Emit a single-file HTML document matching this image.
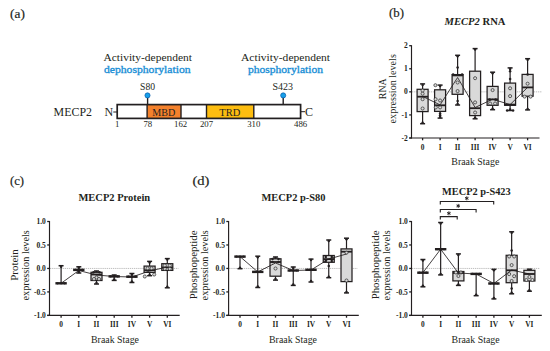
<!DOCTYPE html>
<html><head><meta charset="utf-8"><style>
html,body{margin:0;padding:0;background:#fff;width:550px;height:351px;overflow:hidden;}
svg{display:block;font-family:"Liberation Serif", serif;}
</style></head><body>
<svg width="550" height="351" viewBox="0 0 550 351">
<rect width="550" height="351" fill="#fff"/>
<text x="10.1" y="17.7" font-size="13.5" text-anchor="start" font-weight="normal" font-style="normal" fill="#231f20" textLength="14.8" lengthAdjust="spacingAndGlyphs" stroke="#231f20" stroke-width="0.2">(a)</text>
<rect x="147.1" y="104.6" width="33.900000000000006" height="13.800000000000011" fill="#f4812c" stroke="none" stroke-width="1"/>
<rect x="206.5" y="104.6" width="47.30000000000001" height="13.800000000000011" fill="#fdbd10" stroke="none" stroke-width="1"/>
<rect x="117.2" y="104.6" width="183.40000000000003" height="13.800000000000011" fill="none" stroke="#231f20" stroke-width="1.7"/>
<line x1="147.1" y1="104.6" x2="147.1" y2="118.4" stroke="#231f20" stroke-width="1.4"/>
<line x1="181" y1="104.6" x2="181" y2="118.4" stroke="#231f20" stroke-width="1.4"/>
<line x1="206.5" y1="104.6" x2="206.5" y2="118.4" stroke="#231f20" stroke-width="1.4"/>
<line x1="253.8" y1="104.6" x2="253.8" y2="118.4" stroke="#231f20" stroke-width="1.4"/>
<text x="163.8" y="115.6" font-size="11.2" text-anchor="middle" font-weight="normal" font-style="normal" fill="#231f20" textLength="23" lengthAdjust="spacingAndGlyphs">MBD</text>
<text x="229.8" y="115.6" font-size="11.2" text-anchor="middle" font-weight="normal" font-style="normal" fill="#231f20" textLength="21" lengthAdjust="spacingAndGlyphs">TRD</text>
<text x="53.6" y="115.5" font-size="12" text-anchor="start" font-weight="normal" font-style="normal" fill="#231f20" textLength="38.4" lengthAdjust="spacingAndGlyphs">MECP2</text>
<text x="108.75" y="115.5" font-size="12" text-anchor="middle" font-weight="normal" font-style="normal" fill="#231f20">N</text>
<line x1="113.3" y1="112" x2="117.2" y2="112" stroke="#231f20" stroke-width="1"/>
<line x1="300.6" y1="111.7" x2="305" y2="111.7" stroke="#231f20" stroke-width="1"/>
<text x="309" y="115.6" font-size="12" text-anchor="middle" font-weight="normal" font-style="normal" fill="#231f20">C</text>
<text x="117.2" y="127.3" font-size="8.8" text-anchor="middle" font-weight="normal" font-style="normal" fill="#231f20">1</text>
<text x="147.8" y="127.3" font-size="8.8" text-anchor="middle" font-weight="normal" font-style="normal" fill="#231f20">78</text>
<text x="180.6" y="127.3" font-size="8.8" text-anchor="middle" font-weight="normal" font-style="normal" fill="#231f20">162</text>
<text x="206.5" y="127.3" font-size="8.8" text-anchor="middle" font-weight="normal" font-style="normal" fill="#231f20">207</text>
<text x="253.8" y="127.3" font-size="8.8" text-anchor="middle" font-weight="normal" font-style="normal" fill="#231f20">310</text>
<text x="300.6" y="127.3" font-size="8.8" text-anchor="middle" font-weight="normal" font-style="normal" fill="#231f20">486</text>
<line x1="147.6" y1="97" x2="147.6" y2="104.6" stroke="#231f20" stroke-width="1.4"/>
<circle cx="147.5" cy="95.4" r="2.55" fill="#17a0ea" stroke="#0d5aa8" stroke-width="0.7"/>
<line x1="283.2" y1="97" x2="283.2" y2="104.6" stroke="#231f20" stroke-width="1.4"/>
<circle cx="283.2" cy="95.4" r="2.55" fill="#17a0ea" stroke="#0d5aa8" stroke-width="0.7"/>
<text x="147.6" y="90" font-size="10" text-anchor="middle" font-weight="normal" font-style="normal" fill="#231f20" textLength="15" lengthAdjust="spacingAndGlyphs">S80</text>
<text x="282.8" y="89.8" font-size="10" text-anchor="middle" font-weight="normal" font-style="normal" fill="#231f20" textLength="20.5" lengthAdjust="spacingAndGlyphs">S423</text>
<text x="147.7" y="61" font-size="11" text-anchor="middle" font-weight="normal" font-style="normal" fill="#231f20" textLength="88.6" lengthAdjust="spacingAndGlyphs">Activity-dependent</text>
<text x="147.3" y="73" font-size="11.2" text-anchor="middle" font-weight="normal" font-style="normal" fill="#1a8fd6" textLength="86.6" lengthAdjust="spacingAndGlyphs" stroke="#1a8fd6" stroke-width="0.35">dephosphorylation</text>
<text x="285.5" y="61" font-size="11" text-anchor="middle" font-weight="normal" font-style="normal" fill="#231f20" textLength="89" lengthAdjust="spacingAndGlyphs">Activity-dependent</text>
<text x="285.5" y="73" font-size="11.2" text-anchor="middle" font-weight="normal" font-style="normal" fill="#1a8fd6" textLength="75" lengthAdjust="spacingAndGlyphs" stroke="#1a8fd6" stroke-width="0.35">phosphorylation</text>
<text x="389" y="17.3" font-size="13.5" text-anchor="start" font-weight="normal" font-style="normal" fill="#231f20" textLength="15" lengthAdjust="spacingAndGlyphs" stroke="#231f20" stroke-width="0.2">(b)</text>
<text x="475" y="24.5" font-size="11" text-anchor="middle" font-weight="bold" fill="#231f20" textLength="61" lengthAdjust="spacingAndGlyphs"><tspan font-style="italic">MECP2</tspan> RNA</text>
<line x1="412" y1="91.85" x2="541.5" y2="91.85" stroke="#a8a8a8" stroke-width="0.75" stroke-dasharray="1.3,0.8"/>
<line x1="422.6" y1="83.9" x2="422.6" y2="89.3" stroke="#231f20" stroke-width="1.2"/>
<line x1="420.1" y1="83.9" x2="425.1" y2="83.9" stroke="#231f20" stroke-width="1.5"/>
<circle cx="422.6" cy="84.9" r="1.25" fill="#231f20" stroke="none" stroke-width="0"/>
<line x1="422.6" y1="111.6" x2="422.6" y2="123.7" stroke="#231f20" stroke-width="1.2"/>
<line x1="420.1" y1="123.7" x2="425.1" y2="123.7" stroke="#231f20" stroke-width="1.5"/>
<circle cx="422.6" cy="122.7" r="1.25" fill="#231f20" stroke="none" stroke-width="0"/>
<rect x="417.1" y="89.3" width="11.0" height="22.299999999999997" fill="#d9d9d9" stroke="#231f20" stroke-width="1.25"/>
<line x1="417.1" y1="96.7" x2="428.1" y2="96.7" stroke="#231f20" stroke-width="1.8"/>
<circle cx="422.6" cy="90.6" r="1.55" fill="#d9d9d9" stroke="#333" stroke-width="0.75"/>
<circle cx="422.6" cy="93.7" r="1.55" fill="#d9d9d9" stroke="#333" stroke-width="0.75"/>
<circle cx="422.6" cy="99.2" r="1.55" fill="#d9d9d9" stroke="#333" stroke-width="0.75"/>
<circle cx="422.6" cy="108.5" r="1.55" fill="#d9d9d9" stroke="#333" stroke-width="0.75"/>
<line x1="440.1" y1="85.1" x2="440.1" y2="89.8" stroke="#231f20" stroke-width="1.2"/>
<line x1="437.6" y1="85.1" x2="442.6" y2="85.1" stroke="#231f20" stroke-width="1.5"/>
<circle cx="440.1" cy="86.1" r="1.25" fill="#231f20" stroke="none" stroke-width="0"/>
<line x1="440.1" y1="111.4" x2="440.1" y2="118.1" stroke="#231f20" stroke-width="1.2"/>
<line x1="437.6" y1="118.1" x2="442.6" y2="118.1" stroke="#231f20" stroke-width="1.5"/>
<circle cx="440.1" cy="117.1" r="1.25" fill="#231f20" stroke="none" stroke-width="0"/>
<rect x="434.6" y="89.8" width="11.0" height="21.60000000000001" fill="#d9d9d9" stroke="#231f20" stroke-width="1.25"/>
<line x1="434.6" y1="105.3" x2="445.6" y2="105.3" stroke="#231f20" stroke-width="1.8"/>
<circle cx="435.40000000000003" cy="85.2" r="1.55" fill="#d9d9d9" stroke="#333" stroke-width="0.75"/>
<circle cx="440.1" cy="100.5" r="1.55" fill="#d9d9d9" stroke="#333" stroke-width="0.75"/>
<circle cx="435.6" cy="99.2" r="1.55" fill="#d9d9d9" stroke="#333" stroke-width="0.75"/>
<circle cx="440.1" cy="107.4" r="1.55" fill="#d9d9d9" stroke="#333" stroke-width="0.75"/>
<circle cx="435.8" cy="107.4" r="1.55" fill="#d9d9d9" stroke="#333" stroke-width="0.75"/>
<circle cx="440.1" cy="113.6" r="1.25" fill="#231f20" stroke="none" stroke-width="0"/>
<circle cx="440.1" cy="115.2" r="1.25" fill="#231f20" stroke="none" stroke-width="0"/>
<line x1="457.6" y1="55.3" x2="457.6" y2="74.6" stroke="#231f20" stroke-width="1.2"/>
<line x1="455.1" y1="55.3" x2="460.1" y2="55.3" stroke="#231f20" stroke-width="1.5"/>
<circle cx="457.6" cy="56.3" r="1.25" fill="#231f20" stroke="none" stroke-width="0"/>
<line x1="457.6" y1="94.3" x2="457.6" y2="105" stroke="#231f20" stroke-width="1.2"/>
<line x1="455.1" y1="105" x2="460.1" y2="105" stroke="#231f20" stroke-width="1.5"/>
<circle cx="457.6" cy="104.0" r="1.25" fill="#231f20" stroke="none" stroke-width="0"/>
<rect x="452.1" y="74.6" width="11.0" height="19.700000000000003" fill="#d9d9d9" stroke="#231f20" stroke-width="1.25"/>
<line x1="452.1" y1="75.4" x2="463.1" y2="75.4" stroke="#231f20" stroke-width="1.8"/>
<circle cx="457.6" cy="82.5" r="1.55" fill="#d9d9d9" stroke="#333" stroke-width="0.75"/>
<circle cx="457.6" cy="91.1" r="1.55" fill="#d9d9d9" stroke="#333" stroke-width="0.75"/>
<circle cx="457.6" cy="67.5" r="1.25" fill="#231f20" stroke="none" stroke-width="0"/>
<circle cx="457.6" cy="101.1" r="1.25" fill="#231f20" stroke="none" stroke-width="0"/>
<circle cx="453.1" cy="74.6" r="1.25" fill="#231f20" stroke="none" stroke-width="0"/>
<circle cx="462.1" cy="74.6" r="1.25" fill="#231f20" stroke="none" stroke-width="0"/>
<line x1="475.1" y1="48.6" x2="475.1" y2="71.2" stroke="#231f20" stroke-width="1.2"/>
<line x1="472.6" y1="48.6" x2="477.6" y2="48.6" stroke="#231f20" stroke-width="1.5"/>
<circle cx="475.1" cy="49.6" r="1.25" fill="#231f20" stroke="none" stroke-width="0"/>
<line x1="475.1" y1="115.6" x2="475.1" y2="118.8" stroke="#231f20" stroke-width="1.2"/>
<line x1="472.6" y1="118.8" x2="477.6" y2="118.8" stroke="#231f20" stroke-width="1.5"/>
<circle cx="475.1" cy="117.8" r="1.25" fill="#231f20" stroke="none" stroke-width="0"/>
<rect x="469.6" y="71.2" width="11.0" height="44.39999999999999" fill="#d9d9d9" stroke="#231f20" stroke-width="1.25"/>
<line x1="469.6" y1="108.2" x2="480.6" y2="108.2" stroke="#231f20" stroke-width="1.8"/>
<circle cx="475.1" cy="78.2" r="1.55" fill="#d9d9d9" stroke="#333" stroke-width="0.75"/>
<circle cx="475.1" cy="102.4" r="1.55" fill="#d9d9d9" stroke="#333" stroke-width="0.75"/>
<circle cx="475.1" cy="112.5" r="1.55" fill="#d9d9d9" stroke="#333" stroke-width="0.75"/>
<line x1="492.6" y1="72.2" x2="492.6" y2="86.4" stroke="#231f20" stroke-width="1.2"/>
<line x1="490.1" y1="72.2" x2="495.1" y2="72.2" stroke="#231f20" stroke-width="1.5"/>
<circle cx="492.6" cy="73.2" r="1.25" fill="#231f20" stroke="none" stroke-width="0"/>
<line x1="492.6" y1="105.3" x2="492.6" y2="109.7" stroke="#231f20" stroke-width="1.2"/>
<line x1="490.1" y1="109.7" x2="495.1" y2="109.7" stroke="#231f20" stroke-width="1.5"/>
<circle cx="492.6" cy="108.7" r="1.25" fill="#231f20" stroke="none" stroke-width="0"/>
<rect x="487.1" y="86.4" width="11.0" height="18.89999999999999" fill="#d9d9d9" stroke="#231f20" stroke-width="1.25"/>
<line x1="487.1" y1="99.4" x2="498.1" y2="99.4" stroke="#231f20" stroke-width="1.8"/>
<circle cx="492.6" cy="90.1" r="1.55" fill="#d9d9d9" stroke="#333" stroke-width="0.75"/>
<circle cx="490.1" cy="103.5" r="1.55" fill="#d9d9d9" stroke="#333" stroke-width="0.75"/>
<circle cx="495.1" cy="103.5" r="1.55" fill="#d9d9d9" stroke="#333" stroke-width="0.75"/>
<circle cx="489.6" cy="99.4" r="1.25" fill="#231f20" stroke="none" stroke-width="0"/>
<circle cx="495.6" cy="99.4" r="1.25" fill="#231f20" stroke="none" stroke-width="0"/>
<line x1="510.1" y1="67.9" x2="510.1" y2="83.1" stroke="#231f20" stroke-width="1.2"/>
<line x1="507.6" y1="67.9" x2="512.6" y2="67.9" stroke="#231f20" stroke-width="1.5"/>
<circle cx="510.1" cy="68.9" r="1.25" fill="#231f20" stroke="none" stroke-width="0"/>
<line x1="510.1" y1="105.3" x2="510.1" y2="110.5" stroke="#231f20" stroke-width="1.2"/>
<line x1="507.6" y1="110.5" x2="512.6" y2="110.5" stroke="#231f20" stroke-width="1.5"/>
<circle cx="510.1" cy="109.5" r="1.25" fill="#231f20" stroke="none" stroke-width="0"/>
<rect x="504.6" y="83.1" width="11.0" height="22.200000000000003" fill="#d9d9d9" stroke="#231f20" stroke-width="1.25"/>
<line x1="504.6" y1="104.6" x2="515.6" y2="104.6" stroke="#231f20" stroke-width="1.8"/>
<circle cx="510.1" cy="88.3" r="1.55" fill="#d9d9d9" stroke="#333" stroke-width="0.75"/>
<circle cx="510.1" cy="96.1" r="1.55" fill="#d9d9d9" stroke="#333" stroke-width="0.75"/>
<circle cx="510.1" cy="71.3" r="1.25" fill="#231f20" stroke="none" stroke-width="0"/>
<circle cx="510.1" cy="79" r="1.25" fill="#231f20" stroke="none" stroke-width="0"/>
<circle cx="507.1" cy="110.5" r="1.25" fill="#231f20" stroke="none" stroke-width="0"/>
<circle cx="513.1" cy="110.5" r="1.25" fill="#231f20" stroke="none" stroke-width="0"/>
<line x1="527.6" y1="58.7" x2="527.6" y2="74.4" stroke="#231f20" stroke-width="1.2"/>
<line x1="525.1" y1="58.7" x2="530.1" y2="58.7" stroke="#231f20" stroke-width="1.5"/>
<circle cx="527.6" cy="59.7" r="1.25" fill="#231f20" stroke="none" stroke-width="0"/>
<line x1="527.6" y1="96.2" x2="527.6" y2="109.9" stroke="#231f20" stroke-width="1.2"/>
<line x1="525.1" y1="109.9" x2="530.1" y2="109.9" stroke="#231f20" stroke-width="1.5"/>
<circle cx="527.6" cy="108.9" r="1.25" fill="#231f20" stroke="none" stroke-width="0"/>
<rect x="522.1" y="74.4" width="11.0" height="21.799999999999997" fill="#d9d9d9" stroke="#231f20" stroke-width="1.25"/>
<line x1="522.1" y1="87.4" x2="533.1" y2="87.4" stroke="#231f20" stroke-width="1.8"/>
<circle cx="527.6" cy="83.7" r="1.55" fill="#d9d9d9" stroke="#333" stroke-width="0.75"/>
<circle cx="524.6" cy="96.6" r="1.55" fill="#d9d9d9" stroke="#333" stroke-width="0.75"/>
<circle cx="530.6" cy="96.6" r="1.55" fill="#d9d9d9" stroke="#333" stroke-width="0.75"/>
<circle cx="527.6" cy="74.4" r="1.25" fill="#231f20" stroke="none" stroke-width="0"/>
<polyline points="422.6,96.4 440.1,104.9 457.6,77.5 475.1,107.5 492.6,99.2 510.1,104.6 527.6,87.4" fill="none" stroke="#231f20" stroke-width="0.85"/>
<line x1="411.5" y1="45.2" x2="411.5" y2="138.55" stroke="#231f20" stroke-width="1.15"/>
<line x1="409.2" y1="138" x2="539.5" y2="138" stroke="#231f20" stroke-width="1.15"/>
<line x1="409.2" y1="45.7" x2="411.5" y2="45.7" stroke="#231f20" stroke-width="1.3"/>
<text x="407.8" y="48.300000000000004" font-size="7.5" text-anchor="end" font-weight="bold" font-style="normal" fill="#231f20">2</text>
<line x1="409.2" y1="68.78" x2="411.5" y2="68.78" stroke="#231f20" stroke-width="1.3"/>
<text x="407.8" y="71.38" font-size="7.5" text-anchor="end" font-weight="bold" font-style="normal" fill="#231f20">1</text>
<line x1="409.2" y1="91.85" x2="411.5" y2="91.85" stroke="#231f20" stroke-width="1.3"/>
<text x="407.8" y="94.44999999999999" font-size="7.5" text-anchor="end" font-weight="bold" font-style="normal" fill="#231f20">0</text>
<line x1="409.2" y1="114.93" x2="411.5" y2="114.93" stroke="#231f20" stroke-width="1.3"/>
<text x="407.8" y="117.53" font-size="7.5" text-anchor="end" font-weight="bold" font-style="normal" fill="#231f20">-1</text>
<line x1="409.2" y1="138" x2="411.5" y2="138" stroke="#231f20" stroke-width="1.3"/>
<text x="407.8" y="140.6" font-size="7.5" text-anchor="end" font-weight="bold" font-style="normal" fill="#231f20">-2</text>
<line x1="422.6" y1="138" x2="422.6" y2="140.3" stroke="#231f20" stroke-width="1.3"/>
<text x="422.6" y="149.7" font-size="7.4" text-anchor="middle" font-weight="bold" font-style="normal" fill="#231f20">0</text>
<line x1="440.1" y1="138" x2="440.1" y2="140.3" stroke="#231f20" stroke-width="1.3"/>
<text x="440.1" y="149.7" font-size="7.4" text-anchor="middle" font-weight="bold" font-style="normal" fill="#231f20">I</text>
<line x1="457.6" y1="138" x2="457.6" y2="140.3" stroke="#231f20" stroke-width="1.3"/>
<text x="457.6" y="149.7" font-size="7.4" text-anchor="middle" font-weight="bold" font-style="normal" fill="#231f20">II</text>
<line x1="475.1" y1="138" x2="475.1" y2="140.3" stroke="#231f20" stroke-width="1.3"/>
<text x="475.1" y="149.7" font-size="7.4" text-anchor="middle" font-weight="bold" font-style="normal" fill="#231f20">III</text>
<line x1="492.6" y1="138" x2="492.6" y2="140.3" stroke="#231f20" stroke-width="1.3"/>
<text x="492.6" y="149.7" font-size="7.4" text-anchor="middle" font-weight="bold" font-style="normal" fill="#231f20">IV</text>
<line x1="510.1" y1="138" x2="510.1" y2="140.3" stroke="#231f20" stroke-width="1.3"/>
<text x="510.1" y="149.7" font-size="7.4" text-anchor="middle" font-weight="bold" font-style="normal" fill="#231f20">V</text>
<line x1="527.6" y1="138" x2="527.6" y2="140.3" stroke="#231f20" stroke-width="1.3"/>
<text x="527.6" y="149.7" font-size="7.4" text-anchor="middle" font-weight="bold" font-style="normal" fill="#231f20">VI</text>
<text x="475.3" y="164.6" font-size="9.6" text-anchor="middle" font-weight="normal" font-style="normal" fill="#231f20" textLength="48" lengthAdjust="spacingAndGlyphs">Braak Stage</text>
<text x="0" y="0" font-size="10.6" text-anchor="middle" fill="#231f20" textLength="21" lengthAdjust="spacingAndGlyphs" transform="translate(385.6,88.7) rotate(-90)">RNA</text>
<text x="0" y="0" font-size="10.6" text-anchor="middle" fill="#231f20" textLength="69.2" lengthAdjust="spacingAndGlyphs" transform="translate(396.4,88.8) rotate(-90)">expression levels</text>
<text x="10" y="184.8" font-size="13.5" text-anchor="start" font-weight="normal" font-style="normal" fill="#231f20" textLength="14.1" lengthAdjust="spacingAndGlyphs" stroke="#231f20" stroke-width="0.2">(c)</text>
<text x="114.3" y="200.5" font-size="10.5" text-anchor="middle" font-weight="bold" font-style="normal" fill="#231f20" textLength="71.7" lengthAdjust="spacingAndGlyphs">MECP2 Protein</text>
<line x1="50" y1="268.45" x2="178.5" y2="268.45" stroke="#a8a8a8" stroke-width="0.75" stroke-dasharray="1.3,0.8"/>
<line x1="61.1" y1="265.7" x2="61.1" y2="283.3" stroke="#231f20" stroke-width="1.2"/>
<line x1="58.6" y1="265.7" x2="63.6" y2="265.7" stroke="#231f20" stroke-width="1.5"/>
<circle cx="61.1" cy="266.7" r="1.25" fill="#231f20" stroke="none" stroke-width="0"/>
<line x1="55.4" y1="283.3" x2="66.8" y2="283.3" stroke="#231f20" stroke-width="2.4"/>
<circle cx="57.6" cy="283.3" r="1.1" fill="#231f20" stroke="none" stroke-width="0"/>
<circle cx="61.1" cy="283.3" r="1.1" fill="#231f20" stroke="none" stroke-width="0"/>
<circle cx="64.6" cy="283.3" r="1.1" fill="#231f20" stroke="none" stroke-width="0"/>
<line x1="78.8" y1="266.8" x2="78.8" y2="269.9" stroke="#231f20" stroke-width="1.2"/>
<line x1="76.3" y1="266.8" x2="81.3" y2="266.8" stroke="#231f20" stroke-width="1.5"/>
<circle cx="78.8" cy="267.8" r="1.25" fill="#231f20" stroke="none" stroke-width="0"/>
<line x1="78.8" y1="269.9" x2="78.8" y2="273" stroke="#231f20" stroke-width="1.2"/>
<line x1="76.3" y1="273" x2="81.3" y2="273" stroke="#231f20" stroke-width="1.5"/>
<circle cx="78.8" cy="272.0" r="1.25" fill="#231f20" stroke="none" stroke-width="0"/>
<line x1="73.1" y1="269.9" x2="84.5" y2="269.9" stroke="#231f20" stroke-width="2.4"/>
<circle cx="75.3" cy="269.9" r="1.1" fill="#231f20" stroke="none" stroke-width="0"/>
<circle cx="78.8" cy="269.9" r="1.1" fill="#231f20" stroke="none" stroke-width="0"/>
<circle cx="82.3" cy="269.9" r="1.1" fill="#231f20" stroke="none" stroke-width="0"/>
<line x1="96.5" y1="271" x2="96.5" y2="272.3" stroke="#231f20" stroke-width="1.2"/>
<line x1="94.0" y1="271" x2="99.0" y2="271" stroke="#231f20" stroke-width="1.5"/>
<circle cx="96.5" cy="272.0" r="1.25" fill="#231f20" stroke="none" stroke-width="0"/>
<line x1="96.5" y1="280.5" x2="96.5" y2="284" stroke="#231f20" stroke-width="1.2"/>
<line x1="94.0" y1="284" x2="99.0" y2="284" stroke="#231f20" stroke-width="1.5"/>
<circle cx="96.5" cy="283.0" r="1.25" fill="#231f20" stroke="none" stroke-width="0"/>
<rect x="91.0" y="272.3" width="11.0" height="8.199999999999989" fill="#d9d9d9" stroke="#231f20" stroke-width="1.25"/>
<line x1="91.0" y1="274.5" x2="102.0" y2="274.5" stroke="#231f20" stroke-width="1.8"/>
<circle cx="96.5" cy="277.5" r="1.55" fill="#d9d9d9" stroke="#333" stroke-width="0.75"/>
<circle cx="94.0" cy="279" r="1.55" fill="#d9d9d9" stroke="#333" stroke-width="0.75"/>
<circle cx="99.0" cy="279" r="1.55" fill="#d9d9d9" stroke="#333" stroke-width="0.75"/>
<circle cx="93.5" cy="272.3" r="1.25" fill="#231f20" stroke="none" stroke-width="0"/>
<circle cx="99.5" cy="272.3" r="1.25" fill="#231f20" stroke="none" stroke-width="0"/>
<line x1="114.2" y1="275" x2="114.2" y2="276.4" stroke="#231f20" stroke-width="1.2"/>
<line x1="111.7" y1="275" x2="116.7" y2="275" stroke="#231f20" stroke-width="1.5"/>
<circle cx="114.2" cy="276.0" r="1.25" fill="#231f20" stroke="none" stroke-width="0"/>
<line x1="114.2" y1="276.4" x2="114.2" y2="280.4" stroke="#231f20" stroke-width="1.2"/>
<line x1="111.7" y1="280.4" x2="116.7" y2="280.4" stroke="#231f20" stroke-width="1.5"/>
<circle cx="114.2" cy="279.4" r="1.25" fill="#231f20" stroke="none" stroke-width="0"/>
<line x1="108.5" y1="276.4" x2="119.9" y2="276.4" stroke="#231f20" stroke-width="2.4"/>
<circle cx="110.7" cy="276.4" r="1.1" fill="#231f20" stroke="none" stroke-width="0"/>
<circle cx="114.2" cy="276.4" r="1.1" fill="#231f20" stroke="none" stroke-width="0"/>
<circle cx="117.7" cy="276.4" r="1.1" fill="#231f20" stroke="none" stroke-width="0"/>
<line x1="131.9" y1="273.5" x2="131.9" y2="276.7" stroke="#231f20" stroke-width="1.2"/>
<line x1="129.4" y1="273.5" x2="134.4" y2="273.5" stroke="#231f20" stroke-width="1.5"/>
<circle cx="131.9" cy="274.5" r="1.25" fill="#231f20" stroke="none" stroke-width="0"/>
<line x1="131.9" y1="276.7" x2="131.9" y2="282.5" stroke="#231f20" stroke-width="1.2"/>
<line x1="129.4" y1="282.5" x2="134.4" y2="282.5" stroke="#231f20" stroke-width="1.5"/>
<circle cx="131.9" cy="281.5" r="1.25" fill="#231f20" stroke="none" stroke-width="0"/>
<line x1="126.2" y1="276.7" x2="137.6" y2="276.7" stroke="#231f20" stroke-width="2.4"/>
<circle cx="128.4" cy="276.7" r="1.1" fill="#231f20" stroke="none" stroke-width="0"/>
<circle cx="131.9" cy="276.7" r="1.1" fill="#231f20" stroke="none" stroke-width="0"/>
<circle cx="135.4" cy="276.7" r="1.1" fill="#231f20" stroke="none" stroke-width="0"/>
<line x1="149.6" y1="261.4" x2="149.6" y2="266.1" stroke="#231f20" stroke-width="1.2"/>
<line x1="147.1" y1="261.4" x2="152.1" y2="261.4" stroke="#231f20" stroke-width="1.5"/>
<circle cx="149.6" cy="262.4" r="1.25" fill="#231f20" stroke="none" stroke-width="0"/>
<line x1="149.6" y1="272.4" x2="149.6" y2="275.7" stroke="#231f20" stroke-width="1.2"/>
<line x1="147.1" y1="275.7" x2="152.1" y2="275.7" stroke="#231f20" stroke-width="1.5"/>
<circle cx="149.6" cy="274.7" r="1.25" fill="#231f20" stroke="none" stroke-width="0"/>
<rect x="144.1" y="266.1" width="11.0" height="6.2999999999999545" fill="#d9d9d9" stroke="#231f20" stroke-width="1.25"/>
<line x1="144.1" y1="270.2" x2="155.1" y2="270.2" stroke="#231f20" stroke-width="1.8"/>
<circle cx="144.79999999999998" cy="276.5" r="1.55" fill="#d9d9d9" stroke="#333" stroke-width="0.75"/>
<circle cx="154.2" cy="274.5" r="1.55" fill="#d9d9d9" stroke="#333" stroke-width="0.75"/>
<circle cx="147.6" cy="268.3" r="1.55" fill="#d9d9d9" stroke="#333" stroke-width="0.75"/>
<circle cx="151.6" cy="268.3" r="1.55" fill="#d9d9d9" stroke="#333" stroke-width="0.75"/>
<line x1="167.3" y1="258.6" x2="167.3" y2="263.7" stroke="#231f20" stroke-width="1.2"/>
<line x1="164.8" y1="258.6" x2="169.8" y2="258.6" stroke="#231f20" stroke-width="1.5"/>
<circle cx="167.3" cy="259.6" r="1.25" fill="#231f20" stroke="none" stroke-width="0"/>
<line x1="167.3" y1="270.4" x2="167.3" y2="287.8" stroke="#231f20" stroke-width="1.2"/>
<line x1="164.8" y1="287.8" x2="169.8" y2="287.8" stroke="#231f20" stroke-width="1.5"/>
<circle cx="167.3" cy="286.8" r="1.25" fill="#231f20" stroke="none" stroke-width="0"/>
<rect x="161.8" y="263.7" width="11.0" height="6.699999999999989" fill="#d9d9d9" stroke="#231f20" stroke-width="1.25"/>
<line x1="161.8" y1="267.4" x2="172.8" y2="267.4" stroke="#231f20" stroke-width="1.8"/>
<circle cx="164.8" cy="265.5" r="1.55" fill="#d9d9d9" stroke="#333" stroke-width="0.75"/>
<circle cx="169.8" cy="265.5" r="1.55" fill="#d9d9d9" stroke="#333" stroke-width="0.75"/>
<circle cx="164.8" cy="268.8" r="1.55" fill="#d9d9d9" stroke="#333" stroke-width="0.75"/>
<circle cx="169.8" cy="268.8" r="1.55" fill="#d9d9d9" stroke="#333" stroke-width="0.75"/>
<polyline points="61.1,283.3 78.8,270.5 96.5,275 114.2,276.5 131.9,277 149.6,271 167.3,267" fill="none" stroke="#231f20" stroke-width="0.85"/>
<line x1="49.5" y1="221.0" x2="49.5" y2="315.95" stroke="#231f20" stroke-width="1.15"/>
<line x1="47.2" y1="315.4" x2="179.7" y2="315.4" stroke="#231f20" stroke-width="1.15"/>
<line x1="47.2" y1="221.5" x2="49.5" y2="221.5" stroke="#231f20" stroke-width="1.3"/>
<text x="45.8" y="224.1" font-size="7.5" text-anchor="end" font-weight="bold" font-style="normal" fill="#231f20">1.0</text>
<line x1="47.2" y1="244.97" x2="49.5" y2="244.97" stroke="#231f20" stroke-width="1.3"/>
<text x="45.8" y="247.57" font-size="7.5" text-anchor="end" font-weight="bold" font-style="normal" fill="#231f20">0.5</text>
<line x1="47.2" y1="268.45" x2="49.5" y2="268.45" stroke="#231f20" stroke-width="1.3"/>
<text x="45.8" y="271.05" font-size="7.5" text-anchor="end" font-weight="bold" font-style="normal" fill="#231f20">0.0</text>
<line x1="47.2" y1="291.92" x2="49.5" y2="291.92" stroke="#231f20" stroke-width="1.3"/>
<text x="45.8" y="294.52000000000004" font-size="7.5" text-anchor="end" font-weight="bold" font-style="normal" fill="#231f20">-0.5</text>
<line x1="47.2" y1="315.4" x2="49.5" y2="315.4" stroke="#231f20" stroke-width="1.3"/>
<text x="45.8" y="318.0" font-size="7.5" text-anchor="end" font-weight="bold" font-style="normal" fill="#231f20">-1.0</text>
<line x1="61.1" y1="315.4" x2="61.1" y2="317.7" stroke="#231f20" stroke-width="1.3"/>
<text x="61.1" y="327.4" font-size="7.4" text-anchor="middle" font-weight="bold" font-style="normal" fill="#231f20">0</text>
<line x1="78.8" y1="315.4" x2="78.8" y2="317.7" stroke="#231f20" stroke-width="1.3"/>
<text x="78.8" y="327.4" font-size="7.4" text-anchor="middle" font-weight="bold" font-style="normal" fill="#231f20">I</text>
<line x1="96.5" y1="315.4" x2="96.5" y2="317.7" stroke="#231f20" stroke-width="1.3"/>
<text x="96.5" y="327.4" font-size="7.4" text-anchor="middle" font-weight="bold" font-style="normal" fill="#231f20">II</text>
<line x1="114.2" y1="315.4" x2="114.2" y2="317.7" stroke="#231f20" stroke-width="1.3"/>
<text x="114.2" y="327.4" font-size="7.4" text-anchor="middle" font-weight="bold" font-style="normal" fill="#231f20">III</text>
<line x1="131.9" y1="315.4" x2="131.9" y2="317.7" stroke="#231f20" stroke-width="1.3"/>
<text x="131.9" y="327.4" font-size="7.4" text-anchor="middle" font-weight="bold" font-style="normal" fill="#231f20">IV</text>
<line x1="149.6" y1="315.4" x2="149.6" y2="317.7" stroke="#231f20" stroke-width="1.3"/>
<text x="149.6" y="327.4" font-size="7.4" text-anchor="middle" font-weight="bold" font-style="normal" fill="#231f20">V</text>
<line x1="167.3" y1="315.4" x2="167.3" y2="317.7" stroke="#231f20" stroke-width="1.3"/>
<text x="167.3" y="327.4" font-size="7.4" text-anchor="middle" font-weight="bold" font-style="normal" fill="#231f20">VI</text>
<text x="115" y="342.8" font-size="9.6" text-anchor="middle" font-weight="normal" font-style="normal" fill="#231f20" textLength="48" lengthAdjust="spacingAndGlyphs">Braak Stage</text>
<text x="0" y="0" font-size="10.6" text-anchor="middle" fill="#231f20" textLength="31.5" lengthAdjust="spacingAndGlyphs" transform="translate(17.7,265) rotate(-90)">Protein</text>
<text x="0" y="0" font-size="10.6" text-anchor="middle" fill="#231f20" textLength="70.2" lengthAdjust="spacingAndGlyphs" transform="translate(28.6,265.35) rotate(-90)">expression levels</text>
<text x="192.4" y="184.8" font-size="13.5" text-anchor="start" font-weight="normal" font-style="normal" fill="#231f20" textLength="17" lengthAdjust="spacingAndGlyphs" stroke="#231f20" stroke-width="0.2">(d)</text>
<text x="293.5" y="200.5" font-size="10.5" text-anchor="middle" font-weight="bold" font-style="normal" fill="#231f20" textLength="64.1" lengthAdjust="spacingAndGlyphs">MECP2 p-S80</text>
<line x1="229.2" y1="268.45" x2="357.6" y2="268.45" stroke="#a8a8a8" stroke-width="0.75" stroke-dasharray="1.3,0.8"/>
<line x1="240.0" y1="256.6" x2="240.0" y2="268.7" stroke="#231f20" stroke-width="1.2"/>
<line x1="237.5" y1="268.7" x2="242.5" y2="268.7" stroke="#231f20" stroke-width="1.5"/>
<circle cx="240.0" cy="267.7" r="1.25" fill="#231f20" stroke="none" stroke-width="0"/>
<line x1="234.3" y1="256.6" x2="245.7" y2="256.6" stroke="#231f20" stroke-width="2.4"/>
<circle cx="236.5" cy="256.6" r="1.1" fill="#231f20" stroke="none" stroke-width="0"/>
<circle cx="240.0" cy="256.6" r="1.1" fill="#231f20" stroke="none" stroke-width="0"/>
<circle cx="243.5" cy="256.6" r="1.1" fill="#231f20" stroke="none" stroke-width="0"/>
<line x1="257.75" y1="256.2" x2="257.75" y2="271.9" stroke="#231f20" stroke-width="1.2"/>
<line x1="255.25" y1="256.2" x2="260.25" y2="256.2" stroke="#231f20" stroke-width="1.5"/>
<circle cx="257.75" cy="257.2" r="1.25" fill="#231f20" stroke="none" stroke-width="0"/>
<line x1="257.75" y1="271.9" x2="257.75" y2="287.5" stroke="#231f20" stroke-width="1.2"/>
<line x1="255.25" y1="287.5" x2="260.25" y2="287.5" stroke="#231f20" stroke-width="1.5"/>
<circle cx="257.75" cy="286.5" r="1.25" fill="#231f20" stroke="none" stroke-width="0"/>
<line x1="252.05" y1="271.9" x2="263.45" y2="271.9" stroke="#231f20" stroke-width="2.4"/>
<circle cx="254.25" cy="271.9" r="1.1" fill="#231f20" stroke="none" stroke-width="0"/>
<circle cx="257.75" cy="271.9" r="1.1" fill="#231f20" stroke="none" stroke-width="0"/>
<circle cx="261.25" cy="271.9" r="1.1" fill="#231f20" stroke="none" stroke-width="0"/>
<line x1="275.5" y1="257" x2="275.5" y2="258.8" stroke="#231f20" stroke-width="1.2"/>
<line x1="273.0" y1="257" x2="278.0" y2="257" stroke="#231f20" stroke-width="1.5"/>
<circle cx="275.5" cy="258.0" r="1.25" fill="#231f20" stroke="none" stroke-width="0"/>
<line x1="275.5" y1="276.2" x2="275.5" y2="280.1" stroke="#231f20" stroke-width="1.2"/>
<line x1="273.0" y1="280.1" x2="278.0" y2="280.1" stroke="#231f20" stroke-width="1.5"/>
<circle cx="275.5" cy="279.1" r="1.25" fill="#231f20" stroke="none" stroke-width="0"/>
<rect x="270.0" y="258.8" width="11.0" height="17.399999999999977" fill="#d9d9d9" stroke="#231f20" stroke-width="1.25"/>
<line x1="270.0" y1="262" x2="281.0" y2="262" stroke="#231f20" stroke-width="1.8"/>
<circle cx="275.5" cy="268.5" r="1.55" fill="#d9d9d9" stroke="#333" stroke-width="0.75"/>
<circle cx="272.5" cy="262" r="1.25" fill="#231f20" stroke="none" stroke-width="0"/>
<circle cx="278.5" cy="262" r="1.25" fill="#231f20" stroke="none" stroke-width="0"/>
<circle cx="272.5" cy="259" r="1.25" fill="#231f20" stroke="none" stroke-width="0"/>
<circle cx="278.5" cy="259" r="1.25" fill="#231f20" stroke="none" stroke-width="0"/>
<line x1="293.25" y1="267" x2="293.25" y2="270.5" stroke="#231f20" stroke-width="1.2"/>
<line x1="290.75" y1="267" x2="295.75" y2="267" stroke="#231f20" stroke-width="1.5"/>
<circle cx="293.25" cy="268.0" r="1.25" fill="#231f20" stroke="none" stroke-width="0"/>
<line x1="293.25" y1="270.5" x2="293.25" y2="285.4" stroke="#231f20" stroke-width="1.2"/>
<line x1="290.75" y1="285.4" x2="295.75" y2="285.4" stroke="#231f20" stroke-width="1.5"/>
<circle cx="293.25" cy="284.4" r="1.25" fill="#231f20" stroke="none" stroke-width="0"/>
<line x1="287.55" y1="270.5" x2="298.95" y2="270.5" stroke="#231f20" stroke-width="2.4"/>
<circle cx="289.75" cy="270.5" r="1.1" fill="#231f20" stroke="none" stroke-width="0"/>
<circle cx="293.25" cy="270.5" r="1.1" fill="#231f20" stroke="none" stroke-width="0"/>
<circle cx="296.75" cy="270.5" r="1.1" fill="#231f20" stroke="none" stroke-width="0"/>
<line x1="311.0" y1="259.1" x2="311.0" y2="269.8" stroke="#231f20" stroke-width="1.2"/>
<line x1="308.5" y1="259.1" x2="313.5" y2="259.1" stroke="#231f20" stroke-width="1.5"/>
<circle cx="311.0" cy="260.1" r="1.25" fill="#231f20" stroke="none" stroke-width="0"/>
<line x1="311.0" y1="269.8" x2="311.0" y2="282" stroke="#231f20" stroke-width="1.2"/>
<line x1="308.5" y1="282" x2="313.5" y2="282" stroke="#231f20" stroke-width="1.5"/>
<circle cx="311.0" cy="281.0" r="1.25" fill="#231f20" stroke="none" stroke-width="0"/>
<line x1="305.3" y1="269.8" x2="316.7" y2="269.8" stroke="#231f20" stroke-width="2.4"/>
<circle cx="307.5" cy="269.8" r="1.1" fill="#231f20" stroke="none" stroke-width="0"/>
<circle cx="311.0" cy="269.8" r="1.1" fill="#231f20" stroke="none" stroke-width="0"/>
<circle cx="314.5" cy="269.8" r="1.1" fill="#231f20" stroke="none" stroke-width="0"/>
<line x1="328.75" y1="240" x2="328.75" y2="255.5" stroke="#231f20" stroke-width="1.2"/>
<line x1="326.25" y1="240" x2="331.25" y2="240" stroke="#231f20" stroke-width="1.5"/>
<circle cx="328.75" cy="241.0" r="1.25" fill="#231f20" stroke="none" stroke-width="0"/>
<line x1="328.75" y1="262.3" x2="328.75" y2="277.7" stroke="#231f20" stroke-width="1.2"/>
<line x1="326.25" y1="277.7" x2="331.25" y2="277.7" stroke="#231f20" stroke-width="1.5"/>
<circle cx="328.75" cy="276.7" r="1.25" fill="#231f20" stroke="none" stroke-width="0"/>
<rect x="323.25" y="255.5" width="11.0" height="6.800000000000011" fill="#d9d9d9" stroke="#231f20" stroke-width="1.25"/>
<line x1="323.25" y1="259.1" x2="334.25" y2="259.1" stroke="#231f20" stroke-width="1.8"/>
<circle cx="328.75" cy="266" r="1.25" fill="#231f20" stroke="none" stroke-width="0"/>
<circle cx="325.75" cy="257" r="1.25" fill="#231f20" stroke="none" stroke-width="0"/>
<circle cx="331.75" cy="257" r="1.25" fill="#231f20" stroke="none" stroke-width="0"/>
<circle cx="325.75" cy="261" r="1.25" fill="#231f20" stroke="none" stroke-width="0"/>
<circle cx="331.75" cy="261" r="1.25" fill="#231f20" stroke="none" stroke-width="0"/>
<line x1="346.5" y1="238.2" x2="346.5" y2="248.9" stroke="#231f20" stroke-width="1.2"/>
<line x1="344.0" y1="238.2" x2="349.0" y2="238.2" stroke="#231f20" stroke-width="1.5"/>
<circle cx="346.5" cy="239.2" r="1.25" fill="#231f20" stroke="none" stroke-width="0"/>
<line x1="346.5" y1="281.6" x2="346.5" y2="292.9" stroke="#231f20" stroke-width="1.2"/>
<line x1="344.0" y1="292.9" x2="349.0" y2="292.9" stroke="#231f20" stroke-width="1.5"/>
<circle cx="346.5" cy="291.9" r="1.25" fill="#231f20" stroke="none" stroke-width="0"/>
<rect x="341.0" y="248.9" width="11.0" height="32.70000000000002" fill="#d9d9d9" stroke="#231f20" stroke-width="1.25"/>
<line x1="341.0" y1="251.7" x2="352.0" y2="251.7" stroke="#231f20" stroke-width="1.8"/>
<circle cx="346.5" cy="252.7" r="1.55" fill="#d9d9d9" stroke="#333" stroke-width="0.75"/>
<circle cx="346.5" cy="280.5" r="1.55" fill="#d9d9d9" stroke="#333" stroke-width="0.75"/>
<polyline points="240.0,256.6 257.75,271.9 275.5,263 293.25,270.5 311.0,270 328.75,259 346.5,254" fill="none" stroke="#231f20" stroke-width="0.85"/>
<line x1="228.6" y1="221.0" x2="228.6" y2="315.95" stroke="#231f20" stroke-width="1.15"/>
<line x1="226.29999999999998" y1="315.4" x2="358.8" y2="315.4" stroke="#231f20" stroke-width="1.15"/>
<line x1="226.29999999999998" y1="221.5" x2="228.6" y2="221.5" stroke="#231f20" stroke-width="1.3"/>
<text x="224.9" y="224.1" font-size="7.5" text-anchor="end" font-weight="bold" font-style="normal" fill="#231f20">1.0</text>
<line x1="226.29999999999998" y1="244.97" x2="228.6" y2="244.97" stroke="#231f20" stroke-width="1.3"/>
<text x="224.9" y="247.57" font-size="7.5" text-anchor="end" font-weight="bold" font-style="normal" fill="#231f20">0.5</text>
<line x1="226.29999999999998" y1="268.45" x2="228.6" y2="268.45" stroke="#231f20" stroke-width="1.3"/>
<text x="224.9" y="271.05" font-size="7.5" text-anchor="end" font-weight="bold" font-style="normal" fill="#231f20">0.0</text>
<line x1="226.29999999999998" y1="291.92" x2="228.6" y2="291.92" stroke="#231f20" stroke-width="1.3"/>
<text x="224.9" y="294.52000000000004" font-size="7.5" text-anchor="end" font-weight="bold" font-style="normal" fill="#231f20">-0.5</text>
<line x1="226.29999999999998" y1="315.4" x2="228.6" y2="315.4" stroke="#231f20" stroke-width="1.3"/>
<text x="224.9" y="318.0" font-size="7.5" text-anchor="end" font-weight="bold" font-style="normal" fill="#231f20">-1.0</text>
<line x1="240.0" y1="315.4" x2="240.0" y2="317.7" stroke="#231f20" stroke-width="1.3"/>
<text x="240.0" y="327.4" font-size="7.4" text-anchor="middle" font-weight="bold" font-style="normal" fill="#231f20">0</text>
<line x1="257.75" y1="315.4" x2="257.75" y2="317.7" stroke="#231f20" stroke-width="1.3"/>
<text x="257.75" y="327.4" font-size="7.4" text-anchor="middle" font-weight="bold" font-style="normal" fill="#231f20">I</text>
<line x1="275.5" y1="315.4" x2="275.5" y2="317.7" stroke="#231f20" stroke-width="1.3"/>
<text x="275.5" y="327.4" font-size="7.4" text-anchor="middle" font-weight="bold" font-style="normal" fill="#231f20">II</text>
<line x1="293.25" y1="315.4" x2="293.25" y2="317.7" stroke="#231f20" stroke-width="1.3"/>
<text x="293.25" y="327.4" font-size="7.4" text-anchor="middle" font-weight="bold" font-style="normal" fill="#231f20">III</text>
<line x1="311.0" y1="315.4" x2="311.0" y2="317.7" stroke="#231f20" stroke-width="1.3"/>
<text x="311.0" y="327.4" font-size="7.4" text-anchor="middle" font-weight="bold" font-style="normal" fill="#231f20">IV</text>
<line x1="328.75" y1="315.4" x2="328.75" y2="317.7" stroke="#231f20" stroke-width="1.3"/>
<text x="328.75" y="327.4" font-size="7.4" text-anchor="middle" font-weight="bold" font-style="normal" fill="#231f20">V</text>
<line x1="346.5" y1="315.4" x2="346.5" y2="317.7" stroke="#231f20" stroke-width="1.3"/>
<text x="346.5" y="327.4" font-size="7.4" text-anchor="middle" font-weight="bold" font-style="normal" fill="#231f20">VI</text>
<text x="293" y="342.8" font-size="9.6" text-anchor="middle" font-weight="normal" font-style="normal" fill="#231f20" textLength="48" lengthAdjust="spacingAndGlyphs">Braak Stage</text>
<text x="0" y="0" font-size="10.6" text-anchor="middle" fill="#231f20" textLength="68.8" lengthAdjust="spacingAndGlyphs" transform="translate(196.7,264.9) rotate(-90)">Phosphopeptide</text>
<text x="0" y="0" font-size="10.6" text-anchor="middle" fill="#231f20" textLength="70.2" lengthAdjust="spacingAndGlyphs" transform="translate(207.7,265.3) rotate(-90)">expression levels</text>
<text x="476.4" y="194.5" font-size="10.5" text-anchor="middle" font-weight="bold" font-style="normal" fill="#231f20" textLength="68.6" lengthAdjust="spacingAndGlyphs">MECP2 p-S423</text>
<line x1="412" y1="268.45" x2="540" y2="268.45" stroke="#a8a8a8" stroke-width="0.75" stroke-dasharray="1.3,0.8"/>
<line x1="422.9" y1="259.5" x2="422.9" y2="272.7" stroke="#231f20" stroke-width="1.2"/>
<line x1="420.4" y1="259.5" x2="425.4" y2="259.5" stroke="#231f20" stroke-width="1.5"/>
<circle cx="422.9" cy="260.5" r="1.25" fill="#231f20" stroke="none" stroke-width="0"/>
<line x1="422.9" y1="272.7" x2="422.9" y2="286.8" stroke="#231f20" stroke-width="1.2"/>
<line x1="420.4" y1="286.8" x2="425.4" y2="286.8" stroke="#231f20" stroke-width="1.5"/>
<circle cx="422.9" cy="285.8" r="1.25" fill="#231f20" stroke="none" stroke-width="0"/>
<line x1="417.2" y1="272.7" x2="428.59999999999997" y2="272.7" stroke="#231f20" stroke-width="2.4"/>
<circle cx="419.4" cy="272.7" r="1.1" fill="#231f20" stroke="none" stroke-width="0"/>
<circle cx="422.9" cy="272.7" r="1.1" fill="#231f20" stroke="none" stroke-width="0"/>
<circle cx="426.4" cy="272.7" r="1.1" fill="#231f20" stroke="none" stroke-width="0"/>
<line x1="440.65" y1="222.5" x2="440.65" y2="249.2" stroke="#231f20" stroke-width="1.2"/>
<line x1="438.15" y1="222.5" x2="443.15" y2="222.5" stroke="#231f20" stroke-width="1.5"/>
<circle cx="440.65" cy="223.5" r="1.25" fill="#231f20" stroke="none" stroke-width="0"/>
<line x1="440.65" y1="249.2" x2="440.65" y2="274.9" stroke="#231f20" stroke-width="1.2"/>
<line x1="438.15" y1="274.9" x2="443.15" y2="274.9" stroke="#231f20" stroke-width="1.5"/>
<circle cx="440.65" cy="273.9" r="1.25" fill="#231f20" stroke="none" stroke-width="0"/>
<line x1="434.95" y1="249.2" x2="446.34999999999997" y2="249.2" stroke="#231f20" stroke-width="2.4"/>
<circle cx="437.15" cy="249.2" r="1.1" fill="#231f20" stroke="none" stroke-width="0"/>
<circle cx="440.65" cy="249.2" r="1.1" fill="#231f20" stroke="none" stroke-width="0"/>
<circle cx="444.15" cy="249.2" r="1.1" fill="#231f20" stroke="none" stroke-width="0"/>
<line x1="458.4" y1="253.9" x2="458.4" y2="271.5" stroke="#231f20" stroke-width="1.2"/>
<line x1="455.9" y1="253.9" x2="460.9" y2="253.9" stroke="#231f20" stroke-width="1.5"/>
<circle cx="458.4" cy="254.9" r="1.25" fill="#231f20" stroke="none" stroke-width="0"/>
<line x1="458.4" y1="280.9" x2="458.4" y2="285.4" stroke="#231f20" stroke-width="1.2"/>
<line x1="455.9" y1="285.4" x2="460.9" y2="285.4" stroke="#231f20" stroke-width="1.5"/>
<circle cx="458.4" cy="284.4" r="1.25" fill="#231f20" stroke="none" stroke-width="0"/>
<rect x="452.9" y="271.5" width="11.0" height="9.399999999999977" fill="#d9d9d9" stroke="#231f20" stroke-width="1.25"/>
<line x1="452.9" y1="273" x2="463.9" y2="273" stroke="#231f20" stroke-width="1.8"/>
<circle cx="458.4" cy="276" r="1.55" fill="#d9d9d9" stroke="#333" stroke-width="0.75"/>
<circle cx="455.9" cy="272.5" r="1.55" fill="#d9d9d9" stroke="#333" stroke-width="0.75"/>
<circle cx="460.9" cy="272.5" r="1.55" fill="#d9d9d9" stroke="#333" stroke-width="0.75"/>
<line x1="476.15" y1="273.9" x2="476.15" y2="295.7" stroke="#231f20" stroke-width="1.2"/>
<line x1="473.65" y1="295.7" x2="478.65" y2="295.7" stroke="#231f20" stroke-width="1.5"/>
<circle cx="476.15" cy="294.7" r="1.25" fill="#231f20" stroke="none" stroke-width="0"/>
<line x1="470.45" y1="273.9" x2="481.84999999999997" y2="273.9" stroke="#231f20" stroke-width="2.4"/>
<circle cx="472.65" cy="273.9" r="1.1" fill="#231f20" stroke="none" stroke-width="0"/>
<circle cx="476.15" cy="273.9" r="1.1" fill="#231f20" stroke="none" stroke-width="0"/>
<circle cx="479.65" cy="273.9" r="1.1" fill="#231f20" stroke="none" stroke-width="0"/>
<line x1="493.9" y1="269.3" x2="493.9" y2="283.5" stroke="#231f20" stroke-width="1.2"/>
<line x1="491.4" y1="269.3" x2="496.4" y2="269.3" stroke="#231f20" stroke-width="1.5"/>
<circle cx="493.9" cy="270.3" r="1.25" fill="#231f20" stroke="none" stroke-width="0"/>
<line x1="493.9" y1="283.5" x2="493.9" y2="298.9" stroke="#231f20" stroke-width="1.2"/>
<line x1="491.4" y1="298.9" x2="496.4" y2="298.9" stroke="#231f20" stroke-width="1.5"/>
<circle cx="493.9" cy="297.9" r="1.25" fill="#231f20" stroke="none" stroke-width="0"/>
<line x1="488.2" y1="283.5" x2="499.59999999999997" y2="283.5" stroke="#231f20" stroke-width="2.4"/>
<circle cx="490.4" cy="283.5" r="1.1" fill="#231f20" stroke="none" stroke-width="0"/>
<circle cx="493.9" cy="283.5" r="1.1" fill="#231f20" stroke="none" stroke-width="0"/>
<circle cx="497.4" cy="283.5" r="1.1" fill="#231f20" stroke="none" stroke-width="0"/>
<line x1="511.65" y1="231.8" x2="511.65" y2="255.3" stroke="#231f20" stroke-width="1.2"/>
<line x1="509.15" y1="231.8" x2="514.15" y2="231.8" stroke="#231f20" stroke-width="1.5"/>
<circle cx="511.65" cy="232.8" r="1.25" fill="#231f20" stroke="none" stroke-width="0"/>
<line x1="511.65" y1="282.7" x2="511.65" y2="293.8" stroke="#231f20" stroke-width="1.2"/>
<line x1="509.15" y1="293.8" x2="514.15" y2="293.8" stroke="#231f20" stroke-width="1.5"/>
<circle cx="511.65" cy="292.8" r="1.25" fill="#231f20" stroke="none" stroke-width="0"/>
<rect x="506.15" y="255.3" width="11.0" height="27.399999999999977" fill="#d9d9d9" stroke="#231f20" stroke-width="1.25"/>
<line x1="506.15" y1="270.3" x2="517.15" y2="270.3" stroke="#231f20" stroke-width="1.8"/>
<circle cx="511.65" cy="265.1" r="1.55" fill="#d9d9d9" stroke="#333" stroke-width="0.75"/>
<circle cx="509.15" cy="274.1" r="1.55" fill="#d9d9d9" stroke="#333" stroke-width="0.75"/>
<circle cx="514.15" cy="276.2" r="1.55" fill="#d9d9d9" stroke="#333" stroke-width="0.75"/>
<circle cx="509.15" cy="256.5" r="1.55" fill="#d9d9d9" stroke="#333" stroke-width="0.75"/>
<circle cx="514.15" cy="256.5" r="1.55" fill="#d9d9d9" stroke="#333" stroke-width="0.75"/>
<circle cx="511.65" cy="281" r="1.55" fill="#d9d9d9" stroke="#333" stroke-width="0.75"/>
<circle cx="511.65" cy="250.6" r="1.25" fill="#231f20" stroke="none" stroke-width="0"/>
<circle cx="511.65" cy="288.6" r="1.25" fill="#231f20" stroke="none" stroke-width="0"/>
<line x1="529.4" y1="269.2" x2="529.4" y2="270.3" stroke="#231f20" stroke-width="1.2"/>
<line x1="526.9" y1="269.2" x2="531.9" y2="269.2" stroke="#231f20" stroke-width="1.5"/>
<circle cx="529.4" cy="270.2" r="1.25" fill="#231f20" stroke="none" stroke-width="0"/>
<line x1="529.4" y1="281" x2="529.4" y2="291.2" stroke="#231f20" stroke-width="1.2"/>
<line x1="526.9" y1="291.2" x2="531.9" y2="291.2" stroke="#231f20" stroke-width="1.5"/>
<circle cx="529.4" cy="290.2" r="1.25" fill="#231f20" stroke="none" stroke-width="0"/>
<rect x="523.9" y="270.3" width="11.0" height="10.699999999999989" fill="#d9d9d9" stroke="#231f20" stroke-width="1.25"/>
<line x1="523.9" y1="274" x2="534.9" y2="274" stroke="#231f20" stroke-width="1.8"/>
<circle cx="529.4" cy="277" r="1.55" fill="#d9d9d9" stroke="#333" stroke-width="0.75"/>
<circle cx="526.4" cy="280" r="1.55" fill="#d9d9d9" stroke="#333" stroke-width="0.75"/>
<circle cx="532.4" cy="280" r="1.55" fill="#d9d9d9" stroke="#333" stroke-width="0.75"/>
<polyline points="422.9,272.7 440.65,249.2 458.4,273 476.15,274 493.9,283.5 511.65,270 529.4,274" fill="none" stroke="#231f20" stroke-width="0.85"/>
<line x1="411.5" y1="221.0" x2="411.5" y2="315.95" stroke="#231f20" stroke-width="1.15"/>
<line x1="409.2" y1="315.4" x2="541.8" y2="315.4" stroke="#231f20" stroke-width="1.15"/>
<line x1="409.2" y1="221.5" x2="411.5" y2="221.5" stroke="#231f20" stroke-width="1.3"/>
<text x="407.8" y="224.1" font-size="7.5" text-anchor="end" font-weight="bold" font-style="normal" fill="#231f20">1.0</text>
<line x1="409.2" y1="244.97" x2="411.5" y2="244.97" stroke="#231f20" stroke-width="1.3"/>
<text x="407.8" y="247.57" font-size="7.5" text-anchor="end" font-weight="bold" font-style="normal" fill="#231f20">0.5</text>
<line x1="409.2" y1="268.45" x2="411.5" y2="268.45" stroke="#231f20" stroke-width="1.3"/>
<text x="407.8" y="271.05" font-size="7.5" text-anchor="end" font-weight="bold" font-style="normal" fill="#231f20">0.0</text>
<line x1="409.2" y1="291.92" x2="411.5" y2="291.92" stroke="#231f20" stroke-width="1.3"/>
<text x="407.8" y="294.52000000000004" font-size="7.5" text-anchor="end" font-weight="bold" font-style="normal" fill="#231f20">-0.5</text>
<line x1="409.2" y1="315.4" x2="411.5" y2="315.4" stroke="#231f20" stroke-width="1.3"/>
<text x="407.8" y="318.0" font-size="7.5" text-anchor="end" font-weight="bold" font-style="normal" fill="#231f20">-1.0</text>
<line x1="422.9" y1="315.4" x2="422.9" y2="317.7" stroke="#231f20" stroke-width="1.3"/>
<text x="422.9" y="327.4" font-size="7.4" text-anchor="middle" font-weight="bold" font-style="normal" fill="#231f20">0</text>
<line x1="440.65" y1="315.4" x2="440.65" y2="317.7" stroke="#231f20" stroke-width="1.3"/>
<text x="440.65" y="327.4" font-size="7.4" text-anchor="middle" font-weight="bold" font-style="normal" fill="#231f20">I</text>
<line x1="458.4" y1="315.4" x2="458.4" y2="317.7" stroke="#231f20" stroke-width="1.3"/>
<text x="458.4" y="327.4" font-size="7.4" text-anchor="middle" font-weight="bold" font-style="normal" fill="#231f20">II</text>
<line x1="476.15" y1="315.4" x2="476.15" y2="317.7" stroke="#231f20" stroke-width="1.3"/>
<text x="476.15" y="327.4" font-size="7.4" text-anchor="middle" font-weight="bold" font-style="normal" fill="#231f20">III</text>
<line x1="493.9" y1="315.4" x2="493.9" y2="317.7" stroke="#231f20" stroke-width="1.3"/>
<text x="493.9" y="327.4" font-size="7.4" text-anchor="middle" font-weight="bold" font-style="normal" fill="#231f20">IV</text>
<line x1="511.65" y1="315.4" x2="511.65" y2="317.7" stroke="#231f20" stroke-width="1.3"/>
<text x="511.65" y="327.4" font-size="7.4" text-anchor="middle" font-weight="bold" font-style="normal" fill="#231f20">V</text>
<line x1="529.4" y1="315.4" x2="529.4" y2="317.7" stroke="#231f20" stroke-width="1.3"/>
<text x="529.4" y="327.4" font-size="7.4" text-anchor="middle" font-weight="bold" font-style="normal" fill="#231f20">VI</text>
<text x="475.6" y="342.8" font-size="9.6" text-anchor="middle" font-weight="normal" font-style="normal" fill="#231f20" textLength="48" lengthAdjust="spacingAndGlyphs">Braak Stage</text>
<text x="0" y="0" font-size="10.6" text-anchor="middle" fill="#231f20" textLength="68.8" lengthAdjust="spacingAndGlyphs" transform="translate(379.3,264.9) rotate(-90)">Phosphopeptide</text>
<text x="0" y="0" font-size="10.6" text-anchor="middle" fill="#231f20" textLength="70.2" lengthAdjust="spacingAndGlyphs" transform="translate(390.2,265.3) rotate(-90)">expression levels</text>
<polyline points="440.3,204.5 440.3,201.5 493.7,201.5 493.7,204.5" fill="none" stroke="#231f20" stroke-width="1.1"/>
<line x1="466.8" y1="196.3" x2="466.8" y2="200.3" stroke="#231f20" stroke-width="0.95"/>
<line x1="465.07" y1="197.3" x2="468.53" y2="199.3" stroke="#231f20" stroke-width="0.95"/>
<line x1="465.07" y1="199.3" x2="468.53" y2="197.3" stroke="#231f20" stroke-width="0.95"/>
<polyline points="440.3,212.5 440.3,209.5 476.1,209.5 476.1,212.5" fill="none" stroke="#231f20" stroke-width="1.1"/>
<line x1="458.2" y1="203.9" x2="458.2" y2="207.9" stroke="#231f20" stroke-width="0.95"/>
<line x1="456.47" y1="204.9" x2="459.93" y2="206.9" stroke="#231f20" stroke-width="0.95"/>
<line x1="456.47" y1="206.9" x2="459.93" y2="204.9" stroke="#231f20" stroke-width="0.95"/>
<polyline points="440.3,219.6 440.3,216.6 457.2,216.6 457.2,219.6" fill="none" stroke="#231f20" stroke-width="1.1"/>
<line x1="448.9" y1="211.3" x2="448.9" y2="215.3" stroke="#231f20" stroke-width="0.95"/>
<line x1="447.17" y1="212.3" x2="450.63" y2="214.3" stroke="#231f20" stroke-width="0.95"/>
<line x1="447.17" y1="214.3" x2="450.63" y2="212.3" stroke="#231f20" stroke-width="0.95"/>
</svg>
</body></html>
